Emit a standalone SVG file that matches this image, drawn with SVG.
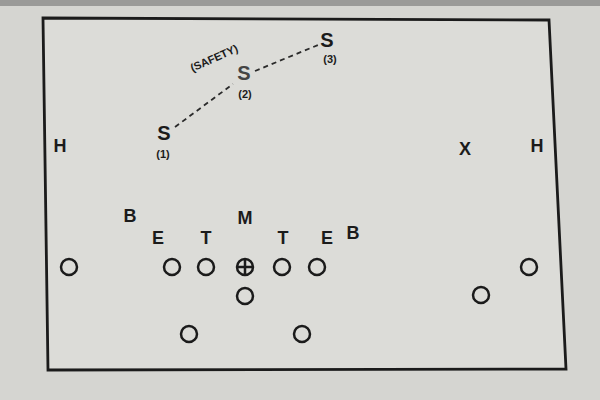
<svg xmlns="http://www.w3.org/2000/svg" width="600" height="400" viewBox="0 0 600 400">
<style>
.lbl{font-family:"Liberation Sans",Arial,sans-serif;font-weight:bold;font-size:18px;fill:#1b1b1b;text-anchor:middle}
.s{font-size:20px}
.num{font-family:"Liberation Sans",Arial,sans-serif;font-weight:bold;font-size:11px;fill:#1b1b1b;text-anchor:middle}
.pl{fill:none;stroke:#1b1b1b;stroke-width:2.5}
.dash{fill:none;stroke:#2a2a2a;stroke-width:1.8;stroke-dasharray:5 4}
</style>
<rect x="0" y="0" width="600" height="400" fill="#d5d5d1"/>
<rect x="0" y="0" width="600" height="6" fill="#9a9a98"/>
<polygon points="43,18 549,20 566,369 48,370" fill="#dcdcd8" stroke="#1b1b1b" stroke-width="2.8"/>
<g id="connectors">
<line class="dash" x1="175" y1="127" x2="233" y2="84"/>
<line class="dash" x1="255" y1="71" x2="318" y2="45"/>
</g>
<g id="safety-label"><text class="num" x="214" y="62" transform="rotate(-24 214 58)">(SAFETY)</text></g>
<g id="S1"><text class="lbl s" x="164" y="140">S</text><text class="num" x="163" y="158">(1)</text></g>
<g id="S2"><text class="lbl s" x="244" y="80" style="fill:#444">S</text><text class="num" x="245" y="98">(2)</text></g>
<g id="S3"><text class="lbl s" x="327" y="47">S</text><text class="num" x="330" y="63">(3)</text></g>
<g id="H-left"><text class="lbl" x="60" y="152">H</text></g>
<g id="X"><text class="lbl" x="465" y="155">X</text></g>
<g id="H-right"><text class="lbl" x="537" y="152">H</text></g>
<g id="B-left"><text class="lbl" x="130" y="222">B</text></g>
<g id="M"><text class="lbl" x="245" y="224">M</text></g>
<g id="E-left"><text class="lbl" x="158" y="244">E</text></g>
<g id="T-left"><text class="lbl" x="206" y="244">T</text></g>
<g id="T-right"><text class="lbl" x="283" y="244">T</text></g>
<g id="E-right"><text class="lbl" x="327" y="244">E</text></g>
<g id="B-right"><text class="lbl" x="353" y="239">B</text></g>
<g id="o-split-left"><circle class="pl" cx="69" cy="267" r="8"/></g>
<g id="o-le"><circle class="pl" cx="172" cy="267" r="8"/></g>
<g id="o-lt"><circle class="pl" cx="206" cy="267" r="8"/></g>
<g id="o-center"><circle class="pl" cx="245" cy="267" r="8"/><line class="pl" x1="237" y1="267" x2="253" y2="267"/><line class="pl" x1="245" y1="259" x2="245" y2="275"/></g>
<g id="o-rt"><circle class="pl" cx="282" cy="267" r="8"/></g>
<g id="o-re"><circle class="pl" cx="317" cy="267" r="8"/></g>
<g id="o-split-right"><circle class="pl" cx="529" cy="267" r="8"/></g>
<g id="o-qb"><circle class="pl" cx="245" cy="296" r="8"/></g>
<g id="o-flanker"><circle class="pl" cx="481" cy="295" r="8"/></g>
<g id="o-lhb"><circle class="pl" cx="189" cy="334" r="8"/></g>
<g id="o-rhb"><circle class="pl" cx="302" cy="334" r="8"/></g>
</svg>
